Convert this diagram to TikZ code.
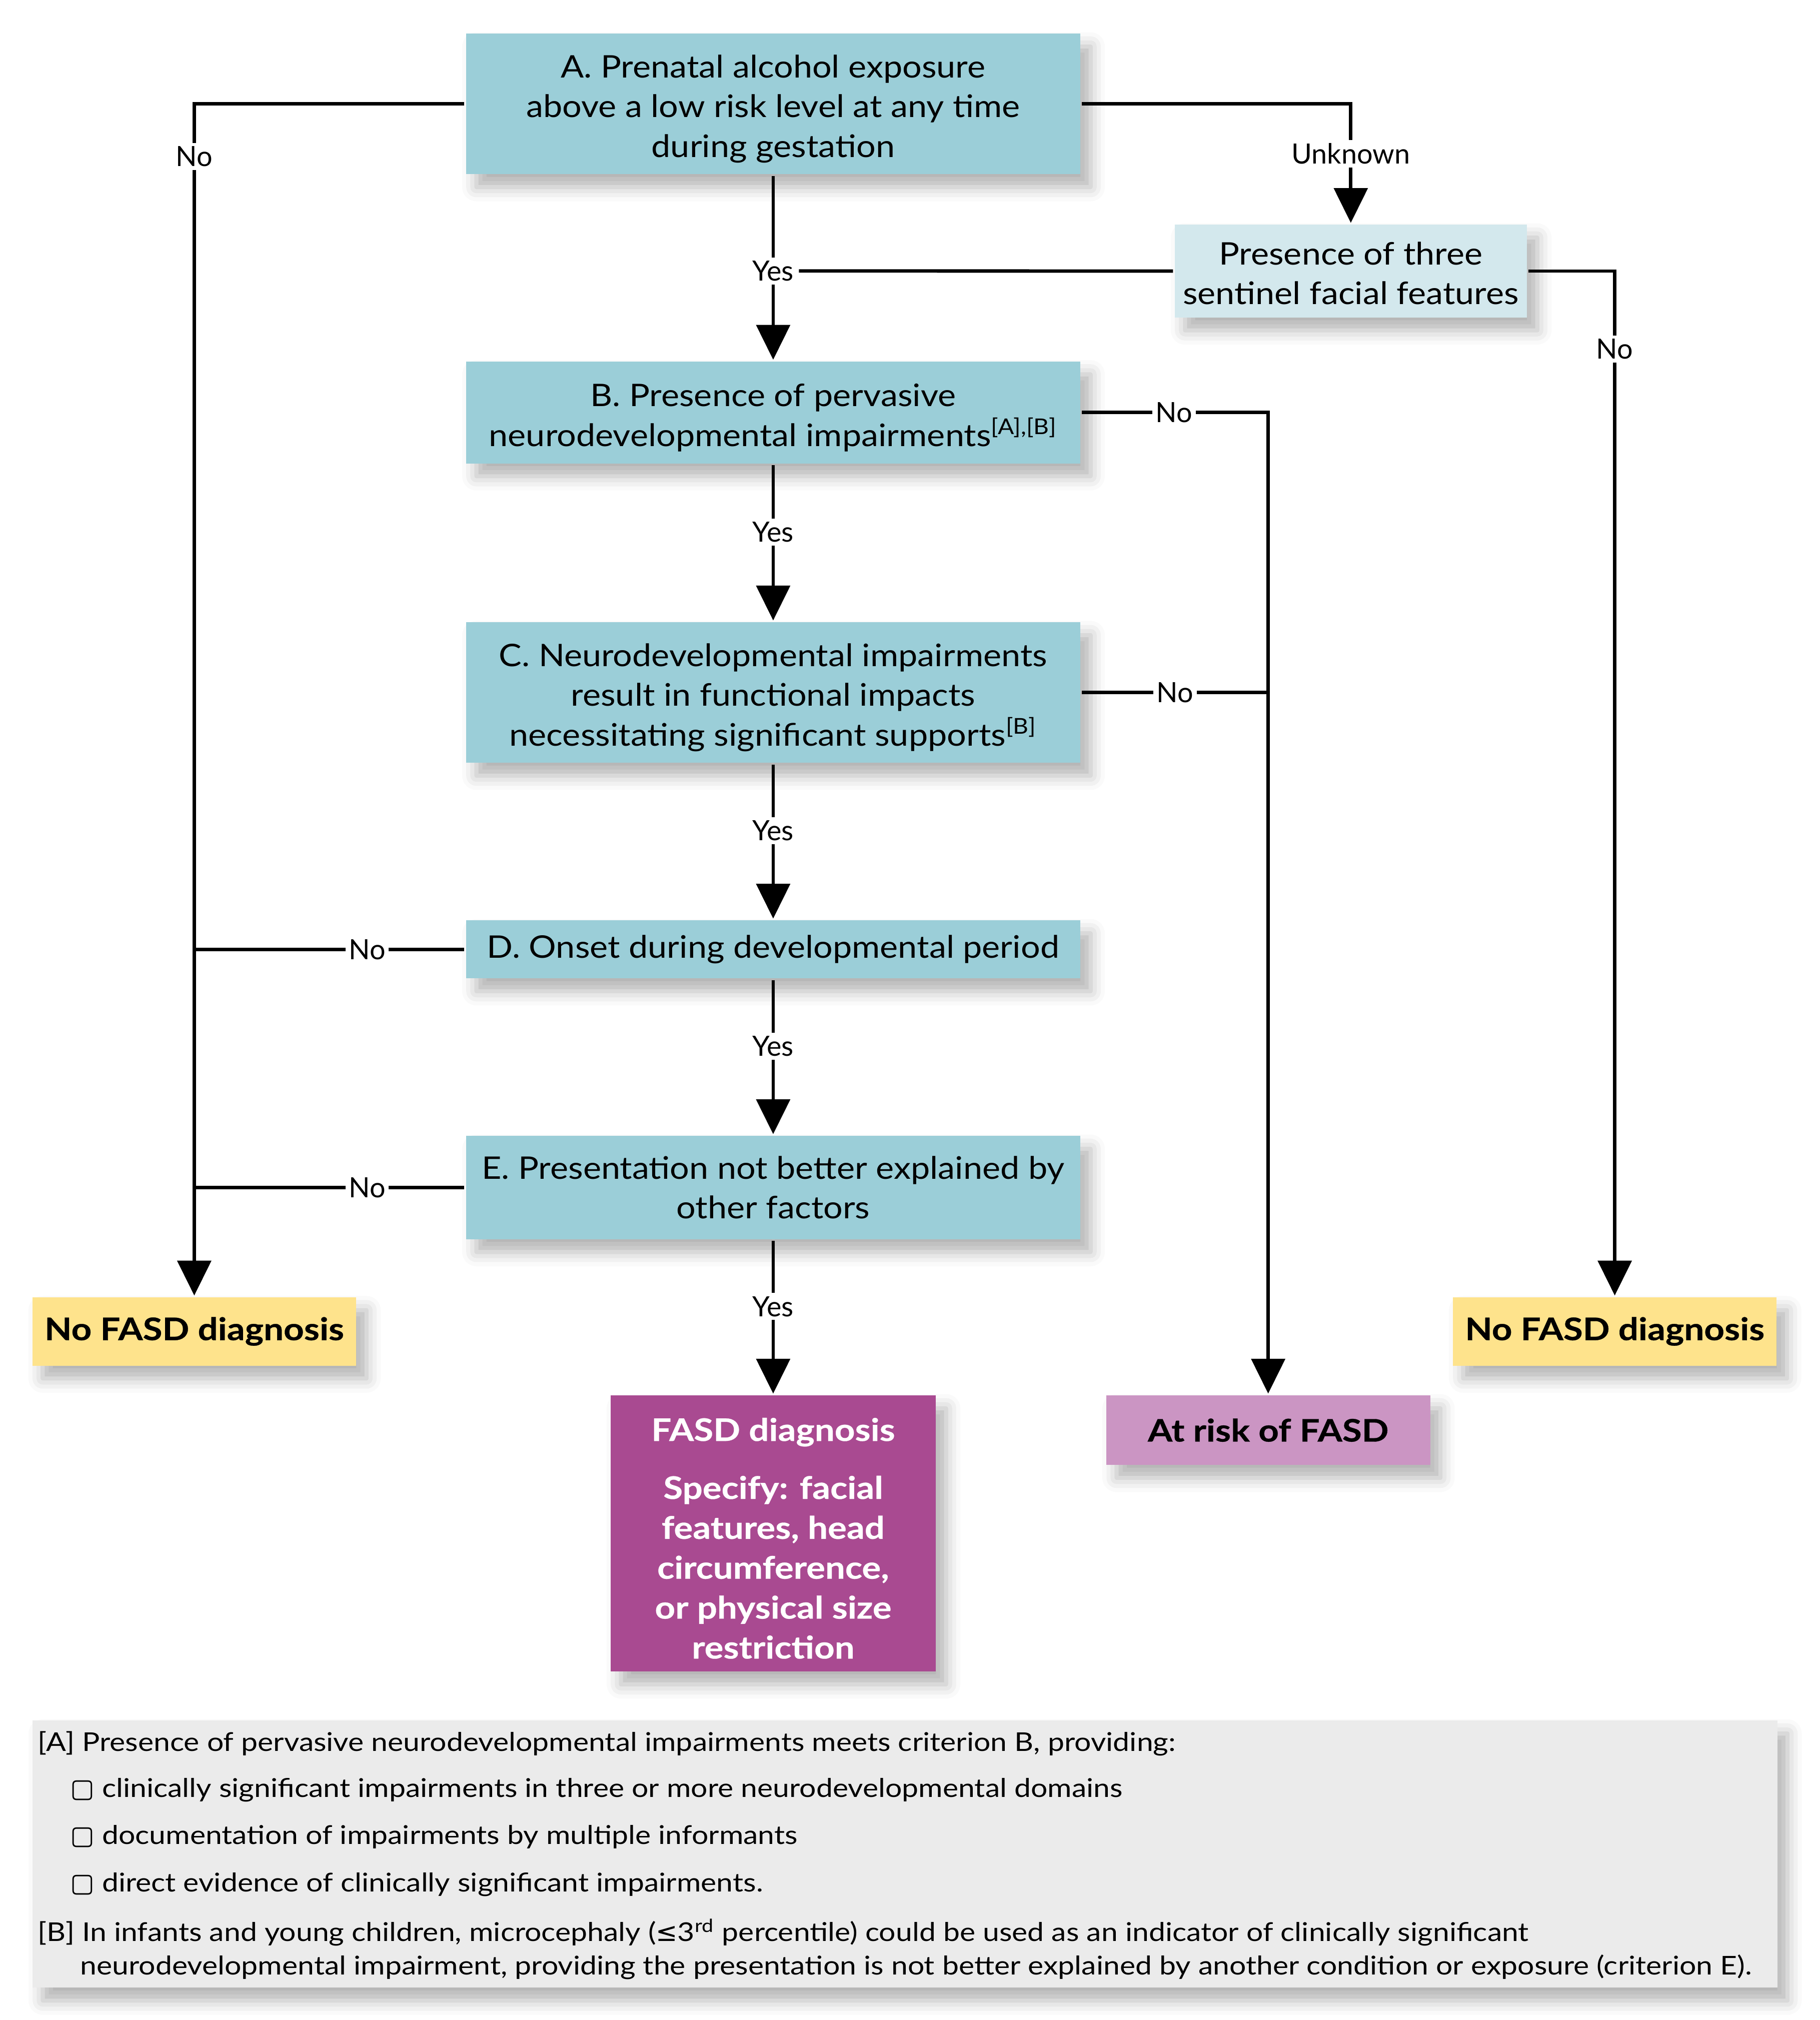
\documentclass[tikz,border=0pt]{standalone}
\usepackage{fontspec}
\setmainfont{Lato}[FakeStretch=1.10]
\newfontfamily\labelfont{Lato}
\newfontfamily\notefont{Lato}[FakeStretch=1.14]
\newfontfamily\heavyfont{Lato}[FakeStretch=1.14, BoldFeatures={FakeBold=0.5}]
\newfontfamily\symfont{DejaVu Sans}
\newcommand\topstrut{\rule{0pt}{14.5pt}}
\usetikzlibrary{arrows.meta,shadows.blur}
\definecolor{critblue}{HTML}{9BCED8}
\definecolor{paleblue}{HTML}{D3E8ED}
\definecolor{noyellow}{HTML}{FEE38C}
\definecolor{fasdpurple}{HTML}{A94A91}
\definecolor{riskpink}{HTML}{CB95C3}
\definecolor{notegray}{HTML}{EBEBEB}
\tikzset{>={Triangle[length=5.4mm,width=5.2mm]}}
\tikzset{
  soft/.style={blur shadow={shadow xshift=1.6mm, shadow yshift=-2mm, shadow blur radius=2.2mm, shadow opacity=30}},
  crit/.style={soft, fill=critblue, minimum width=9.52cm, inner sep=0pt, align=center,
    font=\fontsize{13.7}{17.6}\selectfont},
  pale/.style={soft, fill=paleblue, minimum width=5.46cm, minimum height=1.44cm, inner sep=0pt, align=center,
    font=\fontsize{13.7}{17.6}\selectfont},
  nofasd/.style={soft, fill=noyellow, minimum width=5.02cm, minimum height=1.06cm, inner sep=0pt,
    font=\heavyfont\fontsize{13.7}{17.6}\selectfont\bfseries},
  risk/.style={soft, fill=riskpink, minimum width=5.02cm, minimum height=1.08cm, inner sep=0pt,
    font=\heavyfont\fontsize{13.7}{17.6}\selectfont\bfseries},
  fasd/.style={soft, fill=fasdpurple, text=white, minimum width=5.04cm, minimum height=4.28cm, inner sep=0pt,
    align=center, font=\heavyfont\fontsize{13.7}{17.6}\selectfont\bfseries},
  ans/.style={fill=white, inner sep=1.5pt, font=\labelfont\fontsize{12.3}{14}\selectfont},
  note/.style={anchor=west, inner sep=0pt, font=\notefont\fontsize{11.4}{14}\selectfont}
}

\begin{document}
\begin{tikzpicture}[x=0.02cm,y=-0.02cm,line width=1.5pt]
  \useasboundingbox (0,0) rectangle (1410,1565);

  % criteria
  \node[crit, minimum height=2.18cm] at (599,80.5) (A) {\topstrut A. Prenatal alcohol exposure\\above a low risk level at any time\\during gestation};
  \node[pale] at (1046.5,210) (sent) {\rule{0pt}{12pt}Presence of three\\sentinel facial features};
  \node[crit, minimum height=1.58cm] at (599,319.5) (B) {\topstrut B. Presence of pervasive\\neurodevelopmental impairments\textsuperscript{[A],[B]}};
  \node[crit, minimum height=2.18cm] at (599,536.5) (C) {\topstrut C. Neurodevelopmental impairments\\result in functional impacts\\necessitating significant supports\textsuperscript{[B]}};
  \node[crit, minimum height=0.9cm] at (599,735.5) (D) {D. Onset during developmental period};
  \node[crit, minimum height=1.6cm] at (599,920) (E) {E. Presentation not better explained by\\other factors};

  % outcomes
  \node[nofasd] at (150.5,1031.5) (noL) {No FASD diagnosis};
  \node[nofasd] at (1251,1031.5) (noR) {No FASD diagnosis};
  \node[fasd] at (599,1188) (fasd) {\topstrut FASD diagnosis\\[2.8mm]Specify: facial\\features, head\\circumference,\\or physical size\\restriction};
  \node[risk] at (982.5,1108) (risk) {At risk of FASD};

  % connectors
  \draw[->] (A.west) -| node[ans,pos=0.522] {No} (noL.north);
  \draw[->] (A.east) -| node[ans,pos=0.71] {Unknown} (sent.north);
  \draw[->] (A) -- node[ans,pos=0.517] (yesA) {Yes} (B);
  \draw (sent.west) -- (yesA.east);
  \draw[->] (sent.east) -| node[ans,pos=0.538] {No} (noR.north);
  \draw[->] (B.east) -| node[ans,pos=0.247] {No} (risk.north);
  \draw (C.east) -- node[ans] {No} (C.east -| risk.north);
  \draw[->] (B) -- node[ans,pos=0.43] {Yes} (C);
  \draw[->] (C) -- node[ans,pos=0.43] {Yes} (D);
  \draw[->] (D) -- node[ans,pos=0.43] {Yes} (E);
  \draw[->] (E) -- node[ans,pos=0.43] {Yes} (fasd);
  \draw (D.west) -- node[ans,pos=0.36] {No} (D.west -| noL.north);
  \draw (E.west) -- node[ans,pos=0.36] {No} (E.west -| noL.north);

  % footnotes
  \node[soft, fill=notegray, minimum width=27.04cm, minimum height=4.14cm, inner sep=0pt] at (701,1436.5) (notes) {};
  \node[note] at (28,1351) (nA) {[A] Presence of pervasive neurodevelopmental impairments meets criterion B, providing:};
  \node[note] at (53,1387) (nA1) {{\symfont ▢} clinically significant impairments in three or more neurodevelopmental domains};
  \node[note] at (53,1423) (nA2) {{\symfont ▢} documentation of impairments by multiple informants};
  \node[note] at (53,1460) (nA3) {{\symfont ▢} direct evidence of clinically significant impairments.};
  \node[note] at (28,1497) (nB) {[B] In infants and young children, microcephaly ({\symfont ≤}3\textsuperscript{rd} percentile) could be used as an indicator of clinically significant};
  \node[note] at (61,1524) (nB2) {neurodevelopmental impairment, providing the presentation is not better explained by another condition or exposure (criterion E).};
\end{tikzpicture}
\end{document}
